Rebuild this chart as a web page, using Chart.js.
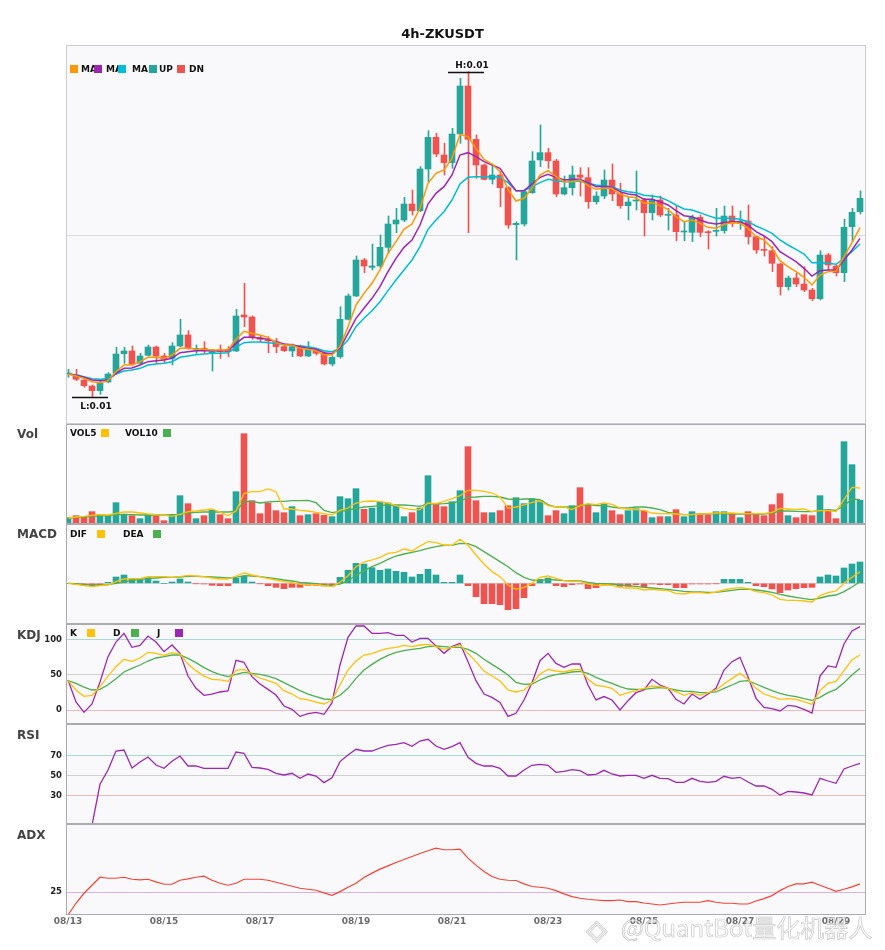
<!DOCTYPE html>
<html>
<head>
<meta charset="utf-8">
<title>4h-ZKUSDT</title>
<script src="https://cdn.jsdelivr.net/npm/chart.js@4.4.1/dist/chart.umd.min.js"></script>
<style>
  body { margin: 0; background: #fff; font-family: "DejaVu Sans", sans-serif; }
  #wrap { position: relative; width: 885px; height: 950px; overflow: hidden; }
  .pane { position: absolute; left: 0; width: 885px; }
  .title { position: absolute; left: 0; width: 885px; top: 26px; line-height: 16px; text-align: center; font-weight: bold; font-size: 13px; color: #111; }
  .name { position: absolute; left: 17px; line-height: 14px; font-weight: bold; font-size: 12px; color: #444; }
  .lg { position: absolute; line-height: 12px; font-weight: bold; font-size: 9px; color: #111; white-space: nowrap; }
  .sq { position: absolute; width: 8px; height: 8px; }
  .mark { position: absolute; top: 912px; line-height: 30px; font-family: "Noto Sans CJK SC", "Noto Sans", sans-serif; color: rgba(255,255,255,0.7); -webkit-text-stroke: 0.7px rgba(150,150,150,0.55); white-space: nowrap; z-index: 5; }
</style>
</head>
<body>
<div id="wrap">
  <div class="pane" style="top:0;height:424px"><canvas id="main"></canvas></div>
  <div class="pane" style="top:424px;height:100px"><canvas id="vol"></canvas></div>
  <div class="pane" style="top:524px;height:100px"><canvas id="macd"></canvas></div>
  <div class="pane" style="top:624px;height:100px"><canvas id="kdj"></canvas></div>
  <div class="pane" style="top:724px;height:100px"><canvas id="rsi"></canvas></div>
  <div class="pane" style="top:824px;height:126px"><canvas id="adx"></canvas></div>

  <div class="title">4h-ZKUSDT</div>

  <!-- main legend -->
  <div class="lg" style="left:81px;top:63px">MA</div>
  <div class="sq" style="left:70px;top:65px;background:#ff9800"></div>
  <div class="lg" style="left:106px;top:63px">MA</div>
  <div class="sq" style="left:94px;top:65px;background:#9c27b0"></div>
  <div class="lg" style="left:132px;top:63px">MA</div>
  <div class="sq" style="left:118px;top:65px;background:#00bcd4"></div>
  <div class="sq" style="left:149px;top:65px;background:#26a69a"></div>
  <div class="lg" style="left:159px;top:63px">UP</div>
  <div class="sq" style="left:177px;top:65px;background:#ef5350"></div>
  <div class="lg" style="left:189px;top:63px">DN</div>

  <div class="name" style="top:427px">Vol</div>
  <div class="lg" style="left:70px;top:427px">VOL5</div>
  <div class="sq" style="left:101px;top:429px;background:#ffc107"></div>
  <div class="lg" style="left:125px;top:427px">VOL10</div>
  <div class="sq" style="left:163px;top:429px;background:#4caf50"></div>

  <div class="name" style="top:527px">MACD</div>
  <div class="lg" style="left:70px;top:528px">DIF</div>
  <div class="sq" style="left:97px;top:530px;background:#ffc107"></div>
  <div class="lg" style="left:123px;top:528px">DEA</div>
  <div class="sq" style="left:153px;top:530px;background:#4caf50"></div>

  <div class="name" style="top:628px">KDJ</div>
  <div class="lg" style="left:70px;top:627px">K</div>
  <div class="sq" style="left:87px;top:629px;background:#ffc107"></div>
  <div class="lg" style="left:113px;top:627px">D</div>
  <div class="sq" style="left:131px;top:629px;background:#4caf50"></div>
  <div class="lg" style="left:157px;top:627px">J</div>
  <div class="sq" style="left:175px;top:629px;background:#9c27b0"></div>

  <div class="name" style="top:728px">RSI</div>
  <div class="name" style="top:828px">ADX</div>

  <div class="mark" style="left:586px;font-size:28px">&#x25C8;</div>
  <div class="mark" style="left:621px;font-size:24px">@QuantBot量化机器人</div>
</div>

<script>
// 4h candles, 08/13 .. 08/29
const dateLabels = ["08/13", "08/15", "08/17", "08/19", "08/21", "08/23", "08/25", "08/27", "08/29"];
const tickIdx = [0, 12, 24, 36, 48, 60, 72, 84, 96];

const open = [0.0783,0.0780,0.0765,0.0747,0.0733,0.0759,0.0785,0.0844,0.0852,0.0815,
  0.0839,0.0864,0.0837,0.0830,0.0867,0.0900,0.0857,0.0860,0.0847,0.0855,
  0.0857,0.0852,0.0960,0.0954,0.0892,0.0885,0.0880,0.0865,0.0852,0.0867,
  0.0837,0.0855,0.0845,0.0813,0.0835,0.0947,0.1017,0.1125,0.1103,0.1107,
  0.1163,0.1233,0.1245,0.1293,0.1273,0.1398,0.1493,0.1440,0.1417,0.1503,
  0.1647,0.1487,0.1410,0.1367,0.1380,0.1342,0.1231,0.1233,0.1327,0.1425,
  0.1447,0.1422,0.1323,0.1342,0.1380,0.1372,0.1300,0.1317,0.1365,0.1325,
  0.1288,0.1302,0.1305,0.1267,0.1305,0.1259,0.1260,0.1209,0.1208,0.1253,
  0.1209,0.1211,0.1213,0.1257,0.1237,0.1242,0.1195,0.1156,0.1153,0.1113,
  0.1045,0.1071,0.1053,0.1035,0.1009,0.1140,0.1107,0.1087,0.1225,0.1270];
const high = [0.0797,0.0797,0.0770,0.0750,0.0765,0.0787,0.0863,0.0863,0.0867,0.0845,
  0.0870,0.0867,0.0845,0.0877,0.0947,0.0913,0.0870,0.0880,0.0857,0.0870,
  0.0865,0.0977,0.1055,0.0957,0.0897,0.0895,0.0890,0.0873,0.0873,0.0870,
  0.0880,0.0860,0.0850,0.0837,0.0985,0.1023,0.1137,0.1130,0.1173,0.1200,
  0.1257,0.1280,0.1313,0.1335,0.1405,0.1513,0.1505,0.1475,0.1520,0.1670,
  0.1690,0.1500,0.1413,0.1413,0.1390,0.1345,0.1240,0.1335,0.1450,0.1530,
  0.1460,0.1427,0.1377,0.1407,0.1402,0.1402,0.1330,0.1395,0.1413,0.1355,
  0.1315,0.1392,0.1310,0.1320,0.1317,0.1280,0.1288,0.1240,0.1260,0.1260,
  0.1213,0.1280,0.1287,0.1287,0.1272,0.1290,0.1197,0.1195,0.1165,0.1115,
  0.1077,0.1085,0.1105,0.1040,0.1153,0.1145,0.1110,0.1247,0.1280,0.1332];
const low = [0.0773,0.0763,0.0743,0.0713,0.0722,0.0757,0.0783,0.0815,0.0810,0.0810,
  0.0837,0.0815,0.0817,0.0810,0.0865,0.0857,0.0845,0.0847,0.0792,0.0830,
  0.0835,0.0850,0.0925,0.0887,0.0880,0.0847,0.0847,0.0850,0.0835,0.0835,
  0.0835,0.0840,0.0810,0.0807,0.0830,0.0945,0.1015,0.1087,0.1095,0.1100,
  0.1145,0.1207,0.1240,0.1260,0.1270,0.1360,0.1435,0.1380,0.1400,0.1475,
  0.1207,0.1370,0.1365,0.1353,0.1285,0.1220,0.1125,0.1227,0.1325,0.1405,
  0.1400,0.1315,0.1320,0.1320,0.1317,0.1280,0.1293,0.1309,0.1303,0.1280,
  0.1245,0.1275,0.1197,0.1245,0.1255,0.1215,0.1183,0.1183,0.1180,0.1195,
  0.1158,0.1197,0.1205,0.1225,0.1217,0.1173,0.1145,0.1137,0.1090,0.1020,
  0.1035,0.1045,0.1030,0.1003,0.1005,0.1095,0.1077,0.1060,0.1180,0.1263];
const close = [0.0785,0.0767,0.0748,0.0733,0.0755,0.0783,0.0843,0.0852,0.0813,0.0837,
  0.0864,0.0837,0.0827,0.0867,0.0900,0.0860,0.0860,0.0853,0.0850,0.0850,
  0.0850,0.0957,0.0954,0.0892,0.0887,0.0882,0.0865,0.0853,0.0865,0.0837,
  0.0857,0.0845,0.0813,0.0833,0.0947,0.1017,0.1125,0.1107,0.1107,0.1163,
  0.1233,0.1245,0.1293,0.1273,0.1398,0.1493,0.1443,0.1417,0.1503,0.1647,
  0.1487,0.1410,0.1367,0.1380,0.1342,0.1230,0.1235,0.1330,0.1422,0.1447,
  0.1423,0.1323,0.1342,0.1380,0.1373,0.1300,0.1317,0.1365,0.1323,0.1288,
  0.1299,0.1305,0.1267,0.1305,0.1260,0.1261,0.1210,0.1211,0.1253,0.1208,
  0.1207,0.1213,0.1257,0.1237,0.1242,0.1195,0.1155,0.1154,0.1115,0.1045,
  0.1071,0.1053,0.1035,0.1009,0.1140,0.1110,0.1087,0.1223,0.1268,0.1310];

// moving averages as drawn (fast / mid / slow)
const maFast = [0.0783,0.0777,0.0770,0.0760,0.0757,0.0763,0.0790,0.0810,0.0810,0.0820,
  0.0833,0.0833,0.0830,0.0840,0.0860,0.0860,0.0858,0.0857,0.0855,0.0855,
  0.0855,0.0887,0.0911,0.0905,0.0900,0.0893,0.0877,0.0870,0.0870,0.0860,
  0.0857,0.0853,0.0840,0.0840,0.0865,0.0925,0.0990,0.1025,0.1055,0.1095,
  0.1145,0.1180,0.1217,0.1233,0.1280,0.1355,0.1385,0.1395,0.1430,0.1502,
  0.1495,0.1460,0.1427,0.1413,0.1390,0.1337,0.1302,0.1310,0.1340,0.1380,
  0.1393,0.1375,0.1360,0.1360,0.1365,0.1348,0.1337,0.1340,0.1340,0.1322,
  0.1315,0.1312,0.1295,0.1297,0.1288,0.1277,0.1255,0.1240,0.1245,0.1235,
  0.1223,0.1220,0.1232,0.1237,0.1235,0.1220,0.1195,0.1185,0.1160,0.1123,
  0.1105,0.1090,0.1073,0.1050,0.1080,0.1090,0.1092,0.1135,0.1177,0.1222];
const maMid = [0.0783,0.0779,0.0773,0.0765,0.0763,0.0765,0.0785,0.0800,0.0801,0.0810,
  0.0820,0.0823,0.0825,0.0830,0.0847,0.0850,0.0853,0.0853,0.0853,0.0853,
  0.0853,0.0875,0.0893,0.0893,0.0890,0.0887,0.0880,0.0873,0.0871,0.0865,
  0.0860,0.0857,0.0847,0.0844,0.0860,0.0905,0.0950,0.0980,0.1010,0.1045,
  0.1090,0.1130,0.1163,0.1185,0.1230,0.1293,0.1325,0.1345,0.1380,0.1440,
  0.1447,0.1435,0.1420,0.1410,0.1400,0.1365,0.1333,0.1333,0.1353,0.1373,
  0.1382,0.1373,0.1365,0.1367,0.1367,0.1357,0.1345,0.1346,0.1343,0.1330,
  0.1323,0.1320,0.1307,0.1307,0.1300,0.1290,0.1273,0.1258,0.1255,0.1245,
  0.1237,0.1233,0.1237,0.1240,0.1239,0.1230,0.1210,0.1197,0.1180,0.1150,
  0.1135,0.1120,0.1100,0.1077,0.1093,0.1095,0.1095,0.1125,0.1155,0.1190];
const maSlow = [0.0783,0.0781,0.0775,0.0769,0.0767,0.0769,0.0783,0.0792,0.0795,0.0800,
  0.0810,0.0813,0.0815,0.0820,0.0833,0.0837,0.0841,0.0843,0.0845,0.0845,
  0.0847,0.0863,0.0877,0.0879,0.0879,0.0877,0.0875,0.0871,0.0869,0.0867,
  0.0865,0.0860,0.0853,0.0850,0.0860,0.0885,0.0925,0.0950,0.0973,0.1000,
  0.1033,0.1065,0.1095,0.1125,0.1165,0.1217,0.1245,0.1270,0.1305,0.1353,
  0.1373,0.1375,0.1375,0.1375,0.1373,0.1357,0.1333,0.1333,0.1345,0.1357,
  0.1367,0.1363,0.1360,0.1361,0.1361,0.1355,0.1350,0.1347,0.1345,0.1335,
  0.1330,0.1327,0.1319,0.1317,0.1313,0.1303,0.1290,0.1278,0.1275,0.1267,
  0.1258,0.1250,0.1250,0.1250,0.1247,0.1240,0.1227,0.1217,0.1205,0.1185,
  0.1170,0.1157,0.1143,0.1117,0.1117,0.1115,0.1112,0.1130,0.1150,0.1173];

// volume (millions)
const volume = [1.9,2.5,2.1,3.7,2.8,2.4,6.4,3.0,2.5,1.6,
  2.8,2.4,1.0,2.6,8.5,6.1,1.6,2.5,4.1,2.8,
  1.6,9.7,27.1,7.0,3.1,6.2,4.0,3.4,5.2,2.5,
  2.8,3.1,2.6,2.2,8.2,7.6,10.6,4.4,4.8,6.6,
  6.3,5.4,2.2,3.4,4.8,14.5,5.8,5.2,6.7,10.0,
  23.2,7.0,3.4,3.4,4.0,5.5,7.9,6.1,7.6,7.0,
  2.5,4.0,3.1,5.5,10.9,5.8,3.4,6.1,4.0,2.8,
  4.0,4.6,4.0,1.9,2.2,2.2,4.3,2.2,3.7,3.1,
  2.8,3.7,3.7,3.1,1.9,3.7,3.1,2.5,5.8,9.1,
  2.5,1.9,2.8,2.5,8.5,4.0,1.6,24.7,17.8,7.1];
const vol5 = [1.8,2.1,2.3,2.6,2.8,2.7,3.2,3.6,3.6,3.3,
  3.0,2.8,2.7,2.3,2.9,3.7,3.9,4.2,4.5,3.6,
  2.5,3.9,9.1,9.7,9.7,10.5,9.7,4.5,4.5,4.1,
  3.9,3.5,3.1,2.7,4.1,4.8,6.3,6.8,6.9,6.7,
  6.3,5.5,4.7,4.3,4.3,6.3,6.1,6.8,7.6,8.5,
  10.1,10.1,9.8,9.3,8.1,4.7,5.1,5.7,6.5,6.9,
  5.5,5.1,5.1,4.3,5.5,6.1,5.8,6.3,5.9,4.8,
  4.5,4.3,4.1,3.3,3.1,3.1,3.0,2.8,2.8,3.0,
  3.1,3.3,3.3,3.3,3.1,3.1,3.1,3.1,3.5,4.7,
  4.5,4.3,4.5,3.7,4.0,4.0,3.7,7.3,11.0,10.8];
const vol10 = [1.8,2.0,2.1,2.3,2.5,2.5,2.8,2.8,2.8,2.7,
  2.7,2.7,2.7,2.8,2.9,3.3,3.5,3.6,3.6,3.6,
  3.6,3.8,6.7,6.8,6.3,6.6,6.8,6.8,7.0,7.0,
  7.1,6.4,4.1,3.4,3.8,4.1,4.7,5.1,5.3,5.5,
  5.7,5.7,5.7,5.5,5.3,6.1,6.0,6.1,6.3,6.8,
  8.0,8.1,8.3,8.3,8.1,7.5,7.3,7.5,7.5,7.3,
  5.8,5.1,5.1,5.1,5.5,5.8,5.5,5.6,5.1,4.8,
  4.8,5.1,5.1,4.8,4.3,3.5,3.1,2.8,2.9,2.9,
  3.1,3.1,3.1,3.0,3.0,3.0,3.0,3.0,3.3,3.9,
  3.9,3.8,3.7,3.7,4.1,4.3,4.1,5.5,7.5,7.3];

// MACD, in units of 1e-4
const macdHist = [0,-1.5,-3,-3.5,-3.5,1.5,9.5,12.5,7.5,6.5,
  8.5,3.5,0,2,6.5,2,-0.5,-1,-3,-3.5,
  -3.5,7.5,10.5,2,-0.5,-3.5,-6,-8,-6,-6,
  -3,-3,-4,-4,9,19.5,30,29,23.5,19.5,
  21.5,18,16.5,9.5,13.5,21,12.5,1.5,1.5,12.5,
  -3.5,-20,-30.5,-30.5,-32,-39.5,-38,-21.5,-3.5,6,
  8,-3.5,-5,-2,-1,-8,-6.5,-1.5,-1.5,-4.5,
  -4.5,-2,-5,-1,-2,-2,-6.5,-6.5,-1,-1,
  -1,-0.5,6,6,6,1.5,-3.5,-5,-8.5,-14,
  -10,-8,-6.5,-6,9.5,12.5,11,23,29,32];
const dif = [0,-1.5,-3.5,-5,-3.5,-2.5,2.5,6.5,7,7,
  10,10,10,9,10,12,11,10,8,6.5,
  6.5,11,15.5,12.5,10,7,5,2.5,1,-1.5,
  -2,-2,-3.5,-5,1.5,11.5,25,32,35,39,
  45,46.5,51.5,48.5,56,62.5,61,57.5,57,66,
  57.5,42.5,29,17.5,10,-2.5,-9,-6,0,9,
  11,7.5,4,3,3,-1,-3,-2.5,-3,-6.5,
  -7,-7,-10,-9,-10,-11,-15,-16,-13.5,-14,
  -15,-13,-10,-7.5,-6.5,-8,-12.5,-14,-17.5,-24,
  -25.5,-25.5,-26.5,-28,-18.5,-14,-11.5,0,9,17.5];
const dea = [0,-0.5,-1.5,-2,-2.5,-2,0,2,4.5,6,
  7,8,9,9,9.5,10.5,10.5,10,9.5,9,
  8,9,11.5,11,10,8.5,7,5,3.5,1.5,
  0.5,-0.5,-2,-3,-1,4,12,19,25,30,
  36,41,44,46.5,49,52.5,55,57,57,60,
  59.5,55,47.5,40,32.5,25,16,9,5,4,
  6,5,4,3.5,3.5,1.5,0,-0.5,-1,-2.5,
  -3.5,-4.5,-6,-7,-8,-9,-10.5,-12,-13,-13,
  -13.5,-13.5,-12,-10.5,-9,-8.5,-10,-11.5,-13.5,-16.5,
  -19,-21,-23,-24.5,-22,-19,-17.5,-12.5,-5.5,2.5];

const kLine = [41.5,28.3,19.3,20.8,33,48,61.3,71.7,68.9,73.6,
  81.6,80.2,77.4,81.1,79.2,65,55.7,48,43.4,42.5,
  40.6,56,57.5,51,45.3,41.5,37.7,27.4,22.6,16,
  14.2,11.3,8.5,14.2,35.4,56.6,69.3,77.8,79.7,84,
  87.3,88.7,91.5,89.6,92,92.9,89.6,85.8,88.7,92,
  80.2,68.4,55.2,48.1,41,28.3,25.5,28.3,37.7,51,
  57.5,55.2,53.8,56.6,57.5,43.4,34.9,33.5,30.7,20.8,
  24.5,27.4,30.7,34,33,30.7,25.9,20.8,24.5,20.8,
  24.5,28.3,36.8,44.8,51.9,43.4,30.7,22.6,18.9,15.1,
  16,15.1,11.8,8,27.4,37.7,40.6,55.7,70.8,77.8];
const dLine = [41.5,37.7,32.5,28.3,29.2,35.8,44.3,53.8,59,63.7,
  69.3,73.6,75.5,77.8,77.8,73,67,60,54.2,50,
  47.2,50.5,53.3,51.9,50.5,48.1,44.3,38.7,33,27.4,
  22.6,18.9,15.6,15.1,20.8,30.7,44.8,56.6,64.6,71.7,
  77.4,81.6,84,85.8,87.3,89.6,90.6,89.6,88.7,88.7,
  85.8,80.2,71.7,64.6,57.5,49.5,39.2,36.3,36.8,42.5,
  47.2,50,51.9,53.8,54.7,51.9,46.2,41.5,37.7,33,
  29.7,29.2,29.2,30.7,31.6,30.7,28.3,26.4,26.4,24.5,
  24.5,25.5,30.7,35.4,40.6,41.5,36.8,32.1,27.4,23.6,
  20.8,18.9,16,13.7,17.9,24.5,29.2,38.7,49.5,59];
const jLine = [42.5,11.3,-3.3,8.5,39.6,75.5,96.2,108.5,88.7,91.5,
  104.7,96.2,82.5,92,80.2,48.1,30.7,20.8,22.6,25.5,
  26.9,70.3,67.5,47.2,36.8,29.2,21.2,5.7,0.9,-9,
  -5.2,-3.3,-6.1,10,63.7,102.8,118.9,118.9,108.5,108.5,
  109.4,105.7,105.7,96.2,101.4,101.4,90.6,80.2,89.6,94.3,
  68.4,41.5,22.6,17.9,10.8,-9,-4.7,14.2,38.7,69.8,
  80.2,66,60.4,65.1,65.1,35.4,14.2,19,14.2,0,
  13.2,24.5,28.3,43.4,35.4,30.7,15.1,8.5,22.6,15.1,
  22.6,30.7,56.6,68.4,74.5,47.2,16.5,3.8,1.9,-1.4,
  6.6,5.2,0.9,-4.2,48.1,62.3,60.4,93.4,111.8,117.9];

const rsi = [null,null,null,0,41,55.3,74.3,75.3,57.3,63.3,
  68.3,60.3,57,64,69.3,59.3,59.3,57,57,57,
  57,73.3,72,58,57.3,56,52,50.3,52,47,
  51.3,49.3,42.7,47.5,63.7,70.3,76,74.3,74.3,77.3,
  80,81,82.7,79,84.3,86,79.3,76,78.7,82.7,
  68,62,59.3,59.3,57,49.3,49.3,55.3,60,61,
  60,53,54,55.7,54.7,50.3,51,55,51.3,49.3,
  50,50,47,50,47,46.7,43,43,47,44,
  43,44,49,47,48,43.3,39.3,39.3,36,30.3,
  34,33.3,32.3,30.3,47,44.3,42,56.3,59.3,62];

const adx = [0,12.9,23.9,32.7,41.5,40.4,40.4,41.5,39.3,38.6,
  39.3,36.4,33.8,33.8,38.2,39.7,41.5,42.6,38.2,34.9,
  32.7,34.9,39.3,39.3,39.3,38.2,36,33.8,31.6,29.4,
  28.3,27.2,24.3,21.7,25.7,30.5,34.9,41.2,46,50.4,
  54,57.7,61,64.3,67.6,70.6,73.5,71.7,71.7,72.4,
  62.5,54.8,47.8,42.3,39.3,38.2,37.9,34.2,31.3,30.5,
  29.4,26.8,23.2,20.2,18.4,17.3,16.5,15.8,15.8,16.5,
  14.7,14.7,13.2,12.1,11,12.1,13.2,14,14,14,
  15.8,14,12.9,12.9,12.1,12.1,15.4,18,21.3,26.8,
  31.3,34.2,34.2,36,32.7,29.4,26.1,28.3,30.9,34.2];

const hiText = "H:0.01";
const loText = "L:0.01";

const UP = "#26a69a";
const DN = "#ef5350";
const FONT = "DejaVu Sans";
const X_MIN = -0.25;
const X_MAX = close.length - 0.25;

Chart.defaults.font.family = FONT;
Chart.defaults.animation = false;

const pts = (arr) => arr.map((v, i) => ({ x: i, y: v }));
const candleColor = close.map((c, i) => (c >= open[i] ? UP : DN));

const line = (label, arr, color, width) => ({
  type: "line",
  label,
  data: pts(arr),
  borderColor: color,
  borderWidth: width || 1.5,
  pointRadius: 0,
  tension: 0,
  order: 0,
});

// plot background + frame
const frame = {
  id: "frame",
  beforeDraw(chart) {
    const a = chart.chartArea;
    chart.ctx.save();
    chart.ctx.fillStyle = "#f9f9fb";
    chart.ctx.fillRect(a.left, a.top, a.width, a.height);
    chart.ctx.restore();
  },
  afterDraw(chart, args, opts) {
    const a = chart.chartArea;
    const ctx = chart.ctx;
    ctx.save();
    ctx.strokeStyle = opts.color || "#b0b0b4";
    ctx.lineWidth = 1;
    ctx.strokeRect(a.left + 0.5, a.top + 0.5, a.width - 1, a.height - 1);
    ctx.restore();
  },
};

// high / low markers on the price pane
const hiLo = {
  id: "hiLo",
  afterDatasetsDraw(chart) {
    const { ctx, scales } = chart;
    const hi = high.indexOf(Math.max(...high));
    const lo = low.indexOf(Math.min(...low));
    const mark = (i, v, text, dy) => {
      const px = scales.x.getPixelForValue(i);
      const py = Math.round(scales.y.getPixelForValue(v)) + 0.5;
      ctx.save();
      ctx.strokeStyle = "#111";
      ctx.lineWidth = 1.5;
      ctx.beginPath();
      ctx.moveTo(px - 20, py);
      ctx.lineTo(px + 16, py);
      ctx.stroke();
      ctx.fillStyle = "#111";
      ctx.font = "bold 9px " + FONT;
      ctx.textAlign = "center";
      ctx.textBaseline = "middle";
      ctx.fillText(text, px + 4, py + dy);
      ctx.restore();
    };
    mark(hi, high[hi], hiText, -7);
    mark(lo, low[lo], loText, 9);
  },
};

function xScale(extra) {
  return Object.assign({ type: "linear", min: X_MIN, max: X_MAX, offset: false, display: false }, extra || {});
}

function yScale(min, max, lines, showLabels) {
  return {
    type: "linear",
    min,
    max,
    afterBuildTicks: (s) => {
      s.ticks = Object.keys(lines).map((v) => ({ value: +v }));
    },
    afterFit: (s) => {
      s.width = 66;
      s.paddingTop = 0;
      s.paddingBottom = 0;
    },
    grid: { color: (c) => (c.tick ? lines[c.tick.value] : "transparent"), drawTicks: false },
    border: { display: false },
    ticks: { display: showLabels, color: "#222", padding: 4, font: { size: 8.5, weight: "bold" } },
  };
}

function options(scales, topPad, frameColor) {
  return {
    responsive: true,
    maintainAspectRatio: false,
    events: [],
    layout: { padding: { left: 0, right: 19, top: topPad || 0, bottom: 0 } },
    plugins: { legend: { display: false }, tooltip: { enabled: false }, frame: { color: frameColor } },
    scales,
  };
}

// Price pane
new Chart(document.getElementById("main"), {
  type: "bar",
  data: {
    datasets: [
      line("MA", maFast, "#ff9800"),
      line("MA", maMid, "#9c27b0"),
      line("MA", maSlow, "#00bcd4"),
      {
        label: "body",
        data: open.map((o, i) => ({ x: i, y: [o, close[i]] })),
        backgroundColor: candleColor,
        barThickness: 6,
        minBarLength: 1,
        grouped: false,
        order: 1,
      },
      {
        label: "wick",
        data: low.map((l, i) => ({ x: i, y: [l, high[i]] })),
        backgroundColor: candleColor,
        barThickness: 1,
        grouped: false,
        xAxisID: "xw",
        order: 2,
      },
    ],
  },
  options: options({
    x: xScale(),
    xw: xScale({ min: X_MIN - 0.0625, max: X_MAX - 0.0625 }),
    y: yScale(0.0633, 0.177, { 0.12: "#dcdce0" }, false),
  }, 45, "#cdcdd3"),
  plugins: [frame, hiLo],
});

// Volume pane
new Chart(document.getElementById("vol"), {
  type: "bar",
  data: {
    datasets: [
      line("VOL5", vol5, "#ffc107", 1.3),
      line("VOL10", vol10, "#4caf50", 1.3),
      {
        label: "Vol",
        data: pts(volume),
        backgroundColor: candleColor,
        barThickness: 6,
        grouped: false,
        order: 1,
      },
    ],
  },
  options: options({ x: xScale(), y: yScale(0, 30, { 0: "transparent" }, false) }, 0, "#ababae"),
  plugins: [frame],
});

// MACD pane
new Chart(document.getElementById("macd"), {
  type: "bar",
  data: {
    datasets: [
      line("DIF", dif, "#ffc107", 1.3),
      line("DEA", dea, "#4caf50", 1.3),
      {
        label: "MACD",
        data: pts(macdHist),
        backgroundColor: macdHist.map((v) => (v >= 0 ? UP : DN)),
        barThickness: 6,
        grouped: false,
        order: 1,
      },
    ],
  },
  options: options({ x: xScale(), y: yScale(-61, 89, { 0: "#d4d4d8" }, false) }, 0, "#ababae"),
  plugins: [frame],
});

// KDJ pane
new Chart(document.getElementById("kdj"), {
  type: "line",
  data: {
    datasets: [
      line("K", kLine, "#ffc107", 1.3),
      line("D", dLine, "#4caf50", 1.3),
      line("J", jLine, "#9c27b0", 1.3),
    ],
  },
  options: options({
    x: xScale(),
    y: yScale(-19.8, 121.7, { 0: "#f6b9b9", 50: "#cfcfd2", 100: "#a9dbd4" }, true),
  }, 0, "#ababae"),
  plugins: [frame],
});

// RSI pane
new Chart(document.getElementById("rsi"), {
  type: "line",
  data: { datasets: [line("RSI", rsi, "#9c27b0", 1.3)] },
  options: options({
    x: xScale(),
    y: yScale(1.3, 101.3, { 30: "#f6b9b9", 50: "#cfcfd2", 70: "#a9dbd4" }, true),
  }, 0, "#ababae"),
  plugins: [frame],
});

// ADX pane with the date axis
new Chart(document.getElementById("adx"), {
  type: "line",
  data: { datasets: [line("ADX", adx, "#f44336", 1.2)] },
  options: options({
    x: xScale({
      display: true,
      afterBuildTicks: (s) => {
        s.ticks = tickIdx.map((v) => ({ value: v }));
      },
      afterFit: (s) => {
        s.height = 35;
      },
      grid: { display: false, drawTicks: false },
      border: { display: false },
      ticks: {
        autoSkip: false,
        maxRotation: 0,
        padding: 1,
        color: "#6b6b6b",
        font: { size: 9, weight: "bold" },
        callback: (v, i) => dateLabels[i],
      },
    }),
    y: yScale(0, 100, { 25: "#dcb2e4" }, true),
  }, 0, "#ababae"),
  plugins: [frame],
});
</script>
</body>
</html>
